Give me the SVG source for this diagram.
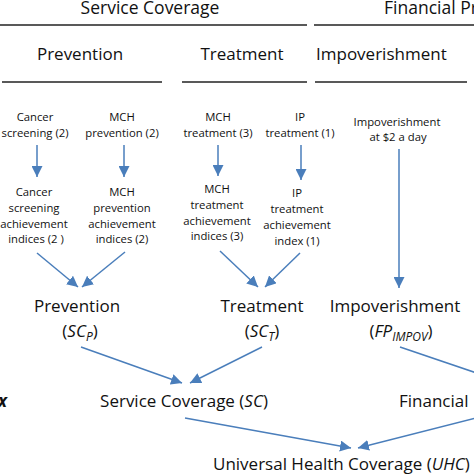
<svg xmlns="http://www.w3.org/2000/svg" width="474" height="474" viewBox="0 0 474 474">
<defs>
<style>
text{font-family:"Open Sans","Noto Sans","Liberation Sans",sans-serif;fill:#111}
.h{font-size:17.5px}
.m{font-size:17px;text-anchor:middle}
.s{font-size:11.3px;text-anchor:middle}
.rule{stroke:#222;stroke-width:1.4}
.c{stroke:#4a7ebb;stroke-width:1.5;fill:none}
.a{marker-end:url(#ah)}
</style>
<marker id="ah" viewBox="0 0 10 10" refX="10" refY="5" markerWidth="11" markerHeight="11" markerUnits="userSpaceOnUse" orient="auto">
<path d="M0,0 L10,5 L0,10 z" fill="#4a7ebb"/>
</marker>
</defs>
<rect width="474" height="474" fill="#fff"/>
<g id="headers">
<text class="h" x="150" y="14" text-anchor="middle">Service Coverage</text>
<text class="h" x="384" y="14">Financial Protection</text>
<line class="rule" x1="0" y1="25" x2="307" y2="25"/>
<line class="rule" x1="314" y1="25" x2="474" y2="25"/>
<text class="m" x="80" y="60">Prevention</text>
<text class="m" x="242" y="60">Treatment</text>
<text class="h" x="316" y="60" style="font-size:17px">Impoverishment</text>
<line class="rule" x1="2" y1="82" x2="162" y2="82"/>
<line class="rule" x1="182" y1="82" x2="307" y2="82"/>
<line class="rule" x1="315" y1="82" x2="467" y2="82"/>
</g>
<g id="n-cancer">
<text class="s" x="35" y="121">Cancer</text>
<text class="s" x="35" y="137">screening (2)</text>
</g>
<g id="n-mchprev">
<text class="s" x="122" y="121">MCH</text>
<text class="s" x="122" y="137">prevention (2)</text>
</g>
<g id="n-mchtreat">
<text class="s" x="218" y="121">MCH</text>
<text class="s" x="218" y="137">treatment (3)</text>
</g>
<g id="n-iptreat">
<text class="s" x="300" y="121">IP</text>
<text class="s" x="300" y="137">treatment (1)</text>
</g>
<g id="n-impov2">
<text class="s" x="397" y="126">Impoverishment</text>
<text class="s" x="398" y="141">at $2 a day</text>
</g>
<g id="n-cancer-idx">
<text class="s" x="34" y="196">Cancer</text>
<text class="s" x="34" y="212">screening</text>
<text class="s" x="34" y="228">achievement</text>
<text class="s" x="36" y="243">indices (2 )</text>
</g>
<g id="n-mchprev-idx">
<text class="s" x="122" y="196">MCH</text>
<text class="s" x="122" y="212">prevention</text>
<text class="s" x="122" y="228">achievement</text>
<text class="s" x="122" y="243">indices  (2)</text>
</g>
<g id="n-mchtreat-idx">
<text class="s" x="217" y="193">MCH</text>
<text class="s" x="217" y="209">treatment</text>
<text class="s" x="217" y="225">achievement</text>
<text class="s" x="217" y="240">indices  (3)</text>
</g>
<g id="n-iptreat-idx">
<text class="s" x="297" y="197">IP</text>
<text class="s" x="297" y="213">treatment</text>
<text class="s" x="297" y="229">achievement</text>
<text class="s" x="297" y="245">index (1)</text>
</g>
<g id="n-prevention">
<text class="m" x="77" y="312">Prevention</text>
<text class="m" x="80" y="337">(<tspan font-style="italic">SC</tspan><tspan font-style="italic" font-size="12" dy="4">P</tspan><tspan dy="-4">)</tspan></text>
</g>
<g id="n-treatment">
<text class="m" x="262" y="312">Treatment</text>
<text class="m" x="262" y="337">(<tspan font-style="italic">SC</tspan><tspan font-style="italic" font-size="12" dy="4">T</tspan><tspan dy="-4">)</tspan></text>
</g>
<g id="n-impov">
<text class="m" x="395" y="312">Impoverishment</text>
<text class="m" x="401" y="337">(<tspan font-style="italic">FP</tspan><tspan font-style="italic" font-size="12" dy="4">IMPOV</tspan><tspan dy="-4">)</tspan></text>
</g>
<g id="n-index">
<text x="-2" y="407" style="font-size:17px;font-weight:bold;font-style:italic">x</text>
</g>
<g id="n-sc">
<text class="m" x="184" y="407">Service Coverage (<tspan font-style="italic">SC</tspan>)</text>
</g>
<g id="n-fp">
<text class="h" x="399" y="407" style="font-size:17px">Financial Protection</text>
</g>
<g id="n-uhc">
<text class="h" x="213" y="470" style="font-size:17px">Universal Health Coverage (<tspan font-style="italic">UHC</tspan>)</text>
</g>
<g id="connectors">
<line class="c a" x1="37" y1="145" x2="37" y2="177"/>
<line class="c a" x1="124" y1="145" x2="124" y2="177"/>
<line class="c a" x1="218" y1="145" x2="218" y2="176"/>
<line class="c a" x1="301" y1="145" x2="301" y2="180"/>
<line class="c a" x1="399" y1="149" x2="399" y2="288"/>
<line class="c a" x1="37" y1="253" x2="78" y2="287"/>
<line class="c a" x1="125" y1="252" x2="82" y2="287"/>
<line class="c a" x1="220" y1="251" x2="258" y2="287"/>
<line class="c a" x1="300" y1="253" x2="265" y2="287"/>
<line class="c a" x1="81" y1="347" x2="182" y2="383"/>
<line class="c a" x1="262" y1="347" x2="190" y2="383"/>
<line class="c" x1="400" y1="347" x2="500" y2="381"/>
<line class="c a" x1="185" y1="418" x2="351" y2="448"/>
<line class="c a" x1="480" y1="417" x2="358" y2="448"/>
</g>
</svg>
